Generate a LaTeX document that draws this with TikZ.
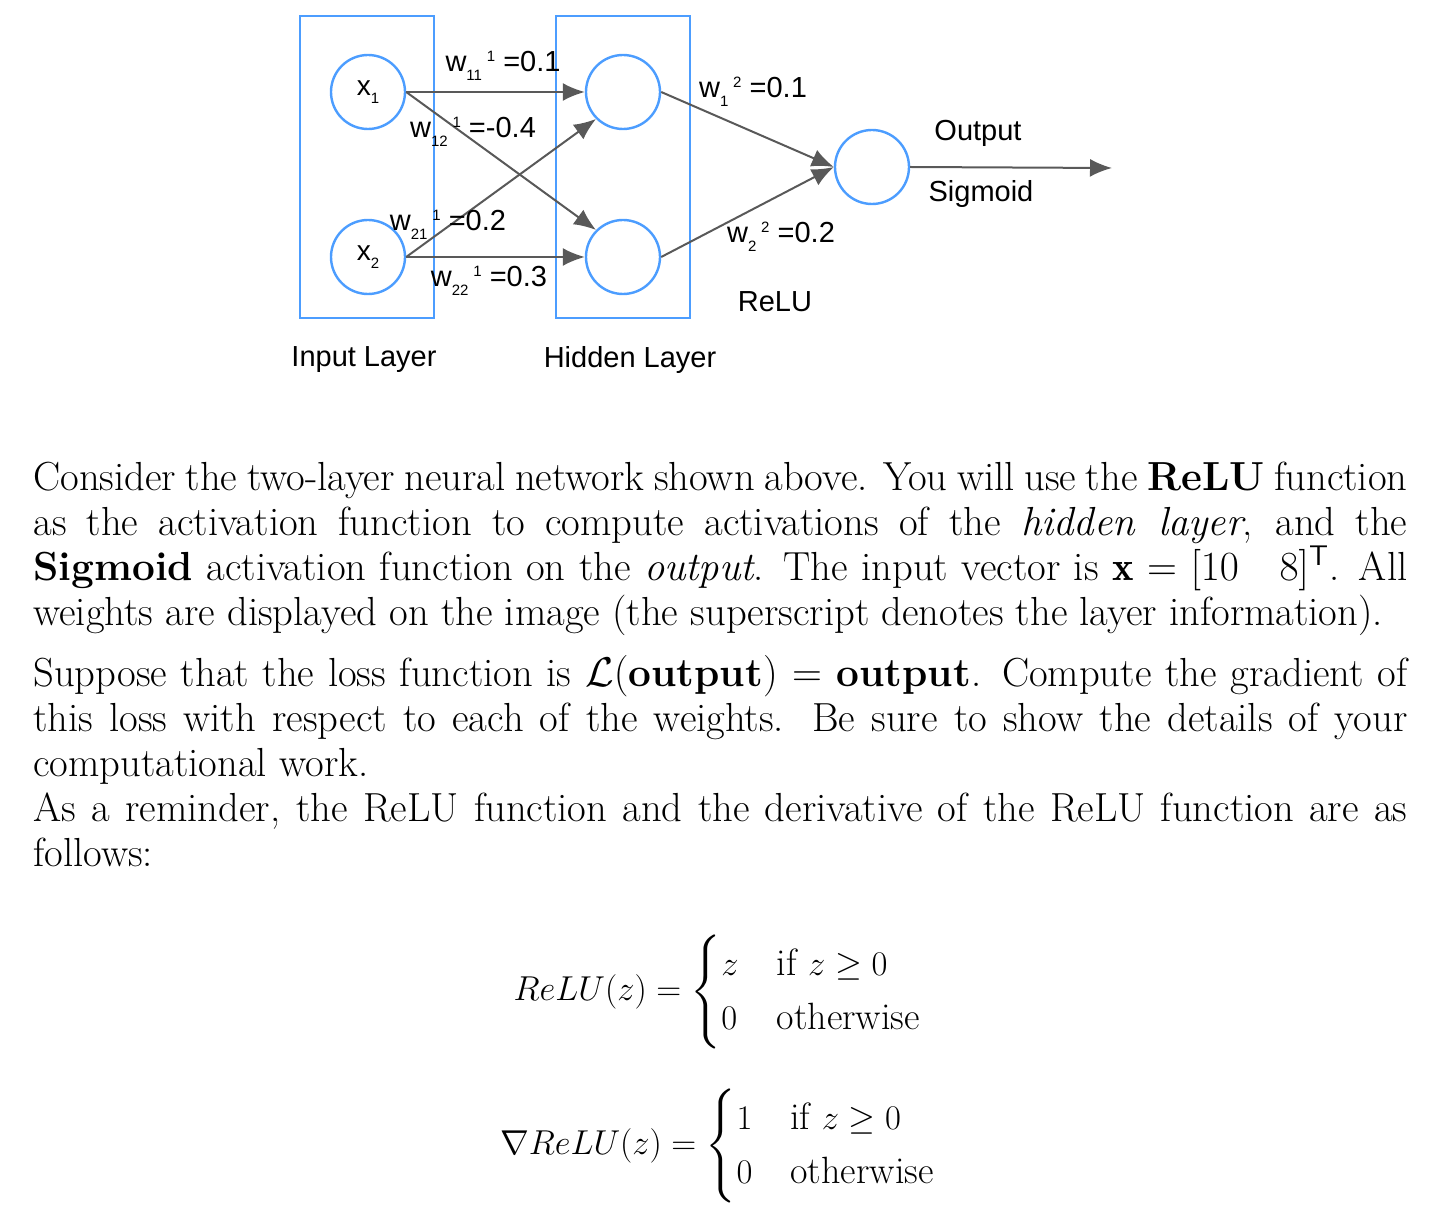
\documentclass[tikz,border=0pt]{standalone}
\usepackage{amsmath,amssymb}
\usepackage{fontspec}
\newfontfamily\diag{Liberation Sans}
\usetikzlibrary{arrows.meta}
\begin{document}
\begin{tikzpicture}[x=0.5pt,y=-0.5pt,
  lay/.style={draw=blue!55!cyan!70!white,line width=1.2pt},
  neur/.style={circle,draw=blue!55!cyan!70!white,line width=1.2pt,minimum size=37pt,inner sep=0pt,font=\diag\fontsize{14}{16}\selectfont},
  conn/.style={draw=black!65,line width=1pt,-{Latex[length=11pt,width=9pt]}},
  lbl/.style={font=\diag\fontsize{14.5}{16}\selectfont,inner sep=0pt}]
\useasboundingbox (0,0) rectangle (1430,1224);
\draw[lay] (300,16) rectangle (434,318);
\draw[lay] (556,16) rectangle (690,318);
\newcommand{\sm}[1]{{\diag\fontsize{7.5}{8}\selectfont #1}}
\node[neur] (x1) at (368,92) {x\raisebox{-4pt}{\sm{1}}};
\node[neur] (x2) at (368,257) {x\raisebox{-4pt}{\sm{2}}};
\node[neur] (h1) at (623,92) {};
\node[neur] (h2) at (623,257) {};
\node[neur] (o) at (872,167) {};
\coordinate (oe) at (1112,168);
\draw[conn] (x1.east) -- (h1.west);
\draw[conn] (x1.east) -- (h2.north west);
\draw[conn] (x2.east) -- (h1.south west);
\draw[conn] (x2.east) -- (h2.west);
\draw[conn] (h1.east) -- (o.west);
\draw[conn] (h2.east) -- (o.west);
\draw[conn] (o.east) -- (oe);
\newcommand{\wl}[3]{w\raisebox{-4.5pt}{\sm{#1}}\,\raisebox{5pt}{\sm{#2}} =#3}
\node[lbl] (l11) at (503,66) {\wl{11}{1}{0.1}};
\node[lbl] (l12) at (473,132) {\wl{12}{1}{-0.4}};
\node[lbl] (l21) at (448,225) {\wl{21}{1}{0.2}};
\node[lbl] (l22) at (489,281) {\wl{22}{1}{0.3}};
\node[lbl] (m1) at (753,92) {\wl{1}{2}{0.1}};
\node[lbl] (m2) at (781,237) {\wl{2}{2}{0.2}};
\node[lbl] (relu) at (775,302) {ReLU};
\node[lbl] (out) at (978,133) {Output};
\node[lbl] (sig) at (981,194) {Sigmoid};
\node[lbl] (il) at (364,360) {Input Layer};
\node[lbl] (hl) at (630,360) {Hidden Layer};
\node[anchor=north west,inner sep=0pt,text width=687pt,align=justify,font=\fontsize{20.3}{22.5}\selectfont] (txt) at (33,462) {%
\setlength{\parskip}{8pt}\hyphenpenalty=10000%
Consider the two-layer neural network shown above. You will use the \textbf{ReLU} function as the activation function to compute activations of the \textit{hidden layer}, and the \textbf{Sigmoid} activation function on the \textit{output}. The input vector is $\mathbf{x}=[10\quad 8]^{\mathsf{T}}$. All weights are displayed on the image (the superscript denotes the layer information).\par
Suppose that the loss function is $\mathcal{L}(\textbf{output})=\textbf{output}$. Compute the gradient of this loss with respect to each of the weights. Be sure to show the details of your computational work.\\
As a reminder, the ReLU function and the derivative of the ReLU function are as follows:\par};
\node[font=\fontsize{19}{22.5}\selectfont] (e1) at (718,992) {$\displaystyle ReLU(z)=\begin{cases}z & \text{if } z\geq 0\\ 0 & \text{otherwise}\end{cases}$};
\node[font=\fontsize{19}{22.5}\selectfont] (e2) at (718,1146) {$\displaystyle \nabla ReLU(z)=\begin{cases}1 & \text{if } z\geq 0\\ 0 & \text{otherwise}\end{cases}$};
\end{tikzpicture}
\end{document}
